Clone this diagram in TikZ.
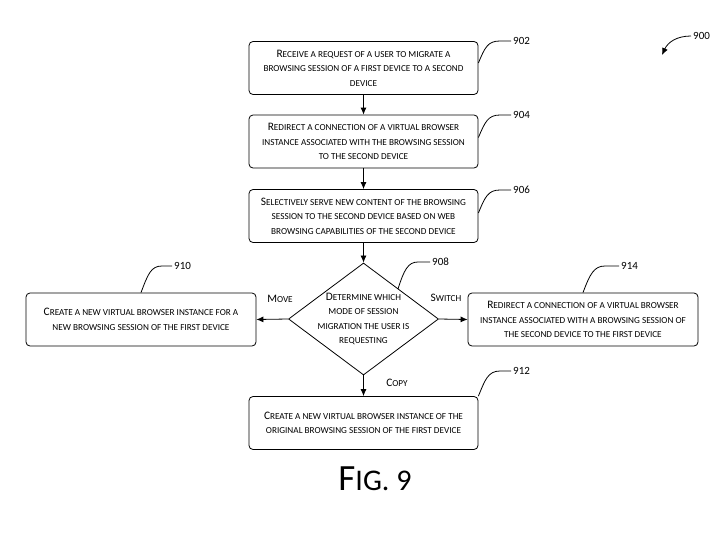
\documentclass[tikz,border=0pt]{standalone}
\usepackage{fontspec}
\setmainfont{Carlito}
\usetikzlibrary{positioning,arrows.meta,shapes.geometric}
% Carlito has no small caps: first letter full size, the rest in smaller capitals
\newcommand{\fakesc}[2]{{\fontsize{11.4}{14.5}\selectfont #1}\uppercase{#2}}

\begin{document}
\begin{tikzpicture}[x=1pt, y=-1pt,
  box/.style={draw, rounded corners=4pt, line width=0.8pt, minimum width=229pt, minimum height=53pt, inner sep=0pt, align=center, font=\fontsize{9.2}{14.5}\selectfont},
  choice/.style={draw, diamond, line width=0.8pt, minimum width=150pt, minimum height=112pt, inner sep=0pt},
  num/.style={anchor=west, inner sep=2pt, font=\fontsize{11}{13}\selectfont},
  lead/.style={line width=0.8pt},
  flow/.style={line width=0.8pt, -{Latex[length=7pt,width=6pt]}},
  tag/.style={inner sep=1pt, font=\fontsize{9.2}{13}\selectfont}
]
\useasboundingbox (0,0) rectangle (726,557);

% Main column of steps
\node[box] (b902) at (363.5,68) {\fakesc{R}{eceive a request of a user to migrate a\\browsing session of a first device to a second\\device}};
\node[box] (b904) at (363.5,141.5) {\fakesc{R}{edirect a connection of a virtual browser\\instance associated with the browsing session\\to the second device}};
\node[box] (b906) at (363.5,216) {\fakesc{S}{electively serve new content of the browsing\\session to the second device based on web\\browsing capabilities of the second device}};

% Decision
\node[choice] (d908) at (363.5,319) {};
\node[align=center, inner sep=0pt, font=\fontsize{9.2}{14.5}\selectfont] (t908) at (363.5,319) {\fakesc{D}{etermine which\\mode of session\\migration the user is\\requesting}};

% Outcomes
\node[box, minimum width=230pt] (b910) at (141,319.5) {\fakesc{C}{reate a new virtual browser instance for a\\new browsing session of the first device}};
\node[box, minimum width=230pt] (b914) at (583,319.5) {\fakesc{R}{edirect a connection of a virtual browser\\instance associated with a browsing session of\\the second device to the first device}};
\node[box] (b912) at (363.5,423) {\fakesc{C}{reate a new virtual browser instance of the\\original browsing session of the first device}};

% Flow arrows
\draw[flow] (b902) -- (b904);
\draw[flow] (b904) -- (b906);
\draw[flow] (b906) -- (d908);
\draw[flow] (d908.west) -- (b910.east);
\draw[flow] (d908.east) -- (b914.west);
\draw[flow] (d908.south) -- (b912.north);

\node[tag] (mv) at (280,299) {\fakesc{M}{ove}};
\node[tag] (sw) at (446,298) {\fakesc{S}{witch}};
\node[tag] (cp) at (397,383) {\fakesc{C}{opy}};

% Reference numerals
\node[num] (l902) at (511,41) {902};
\node[num] (l904) at (511,115) {904};
\node[num] (l906) at (511,190) {906};
\node[num] (l908) at (430,262) {908};
\node[num] (l910) at (172,266) {910};
\node[num] (l914) at (619,266) {914};
\node[num] (l912) at (511,371) {912};
\node[num] (l900) at (691,36) {900};

\draw[lead] ([yshift=5pt]b902.east) .. controls (485,47) and (488,41) .. (500,41) -- (l902.west);
\draw[lead] ([yshift=4pt]b904.east) .. controls (485,122) and (488,115) .. (500,115) -- (l904.west);
\draw[lead] ([yshift=3pt]b906.east) .. controls (485,197) and (488,190) .. (500,190) -- (l906.west);
\draw[lead] (398,289) .. controls (404,270) and (408,262) .. (418,262) -- (l908.west);
\draw[lead] (b910.north) .. controls (148,274) and (151,266) .. (162,266) -- (l910.west);
\draw[lead] (b914.north) .. controls (590,274) and (594,266) .. (605,266) -- (l914.west);
\draw[lead] (b912.north east) .. controls (485,380) and (488,371) .. (500,371) -- (l912.west);

\coordinate (a900) at (662,55);
\draw[lead, -{Latex[length=7pt,width=6pt]}] (l900.west) .. controls (677,36) and (668,42) .. (a900);

% Figure caption
\node[font=\fontsize{30}{38}\selectfont] (fig) at (375,479) {{\fontsize{37}{38}\selectfont F}IG. 9};

\end{tikzpicture}
\end{document}
